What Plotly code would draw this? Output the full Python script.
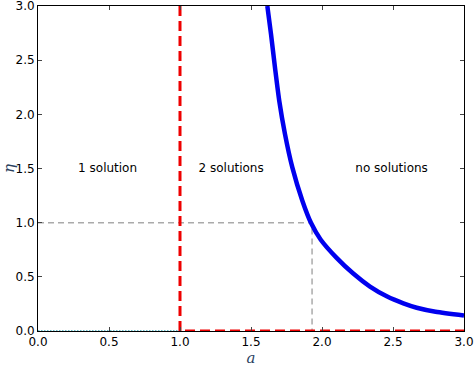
import plotly.graph_objects as go

# Blue boundary curve
curve_a = [1.615, 1.641, 1.669, 1.699, 1.739, 1.791, 1.861, 1.923, 1.99, 2.103, 2.22, 2.338, 2.456, 2.573, 2.667, 2.8, 3.0]
curve_eta = [3.0, 2.74, 2.43, 2.125, 1.82, 1.51, 1.205, 0.996, 0.845, 0.675, 0.53, 0.41, 0.32, 0.255, 0.215, 0.178, 0.144]

# Red dashed boundary
red_a = [1.0, 1.0, 3.0]
red_eta = [3.0, 0.0, 0.0]

# Cyan dotted line
cyan_a = [0.0, 1.0]
cyan_eta = [0.0, 0.0]

# Grey guide lines
guide_a = [0.0, 1.93, 1.93]
guide_eta = [1.0, 1.0, 0.0]

# Region labels
label_text = ["1 solution", "2 solutions", "no solutions"]
label_a = [0.49, 1.36, 2.49]
label_eta = [1.5, 1.5, 1.5]

ticks = [0.0, 0.5, 1.0, 1.5, 2.0, 2.5, 3.0]
tick_text = ["0.0", "0.5", "1.0", "1.5", "2.0", "2.5", "3.0"]

fig = go.Figure()
fig.add_trace(go.Scatter(x=guide_a, y=guide_eta, mode="lines",
                         line=dict(color="#aaaaaa", width=1.5, dash="6px,4px"), hoverinfo="skip"))
fig.add_trace(go.Scatter(x=cyan_a, y=cyan_eta, mode="lines",
                         line=dict(color="#3aa8b8", width=1.5, dash="1.5px,1.5px"), hoverinfo="skip"))
fig.add_trace(go.Scatter(x=curve_a, y=curve_eta, mode="lines", line_shape="spline",
                         line=dict(color="#0000ee", width=4.5, smoothing=0.7), hoverinfo="skip"))
fig.add_trace(go.Scatter(x=red_a, y=red_eta, mode="lines",
                         line=dict(color="#ee0000", width=3, dash="10px,5px"), hoverinfo="skip"))
fig.add_trace(go.Scatter(x=label_a, y=label_eta, mode="text", text=label_text,
                         textfont=dict(family="DejaVu Sans", size=12, color="black"), hoverinfo="skip"))

axis_common = dict(
    showgrid=False, zeroline=False, showline=True, linecolor="black", linewidth=1,
    mirror="allticks", ticks="inside", ticklen=4, tickcolor="#444444",
    tickvals=ticks, ticktext=tick_text, automargin=False, ticklabeloverflow="allow",
    tickfont=dict(family="DejaVu Sans", size=12, color="black"),
)
fig.update_layout(
    width=474, height=367,
    margin=dict(l=38, r=10, t=6, b=36, autoexpand=False),
    plot_bgcolor="white", paper_bgcolor="white",
    showlegend=False,
    xaxis=dict(range=[0, 3], title=dict(text="<i>a</i>", standoff=2,
               font=dict(family="DejaVu Serif", size=15)), **axis_common),
    yaxis=dict(range=[0, 3], title=dict(text="<i>η</i>", standoff=4,
               font=dict(family="DejaVu Serif", size=15)), **axis_common),
)
fig.write_html("out.html", config={"displayModeBar": False},
               post_script="document.body.style.margin='0';")
